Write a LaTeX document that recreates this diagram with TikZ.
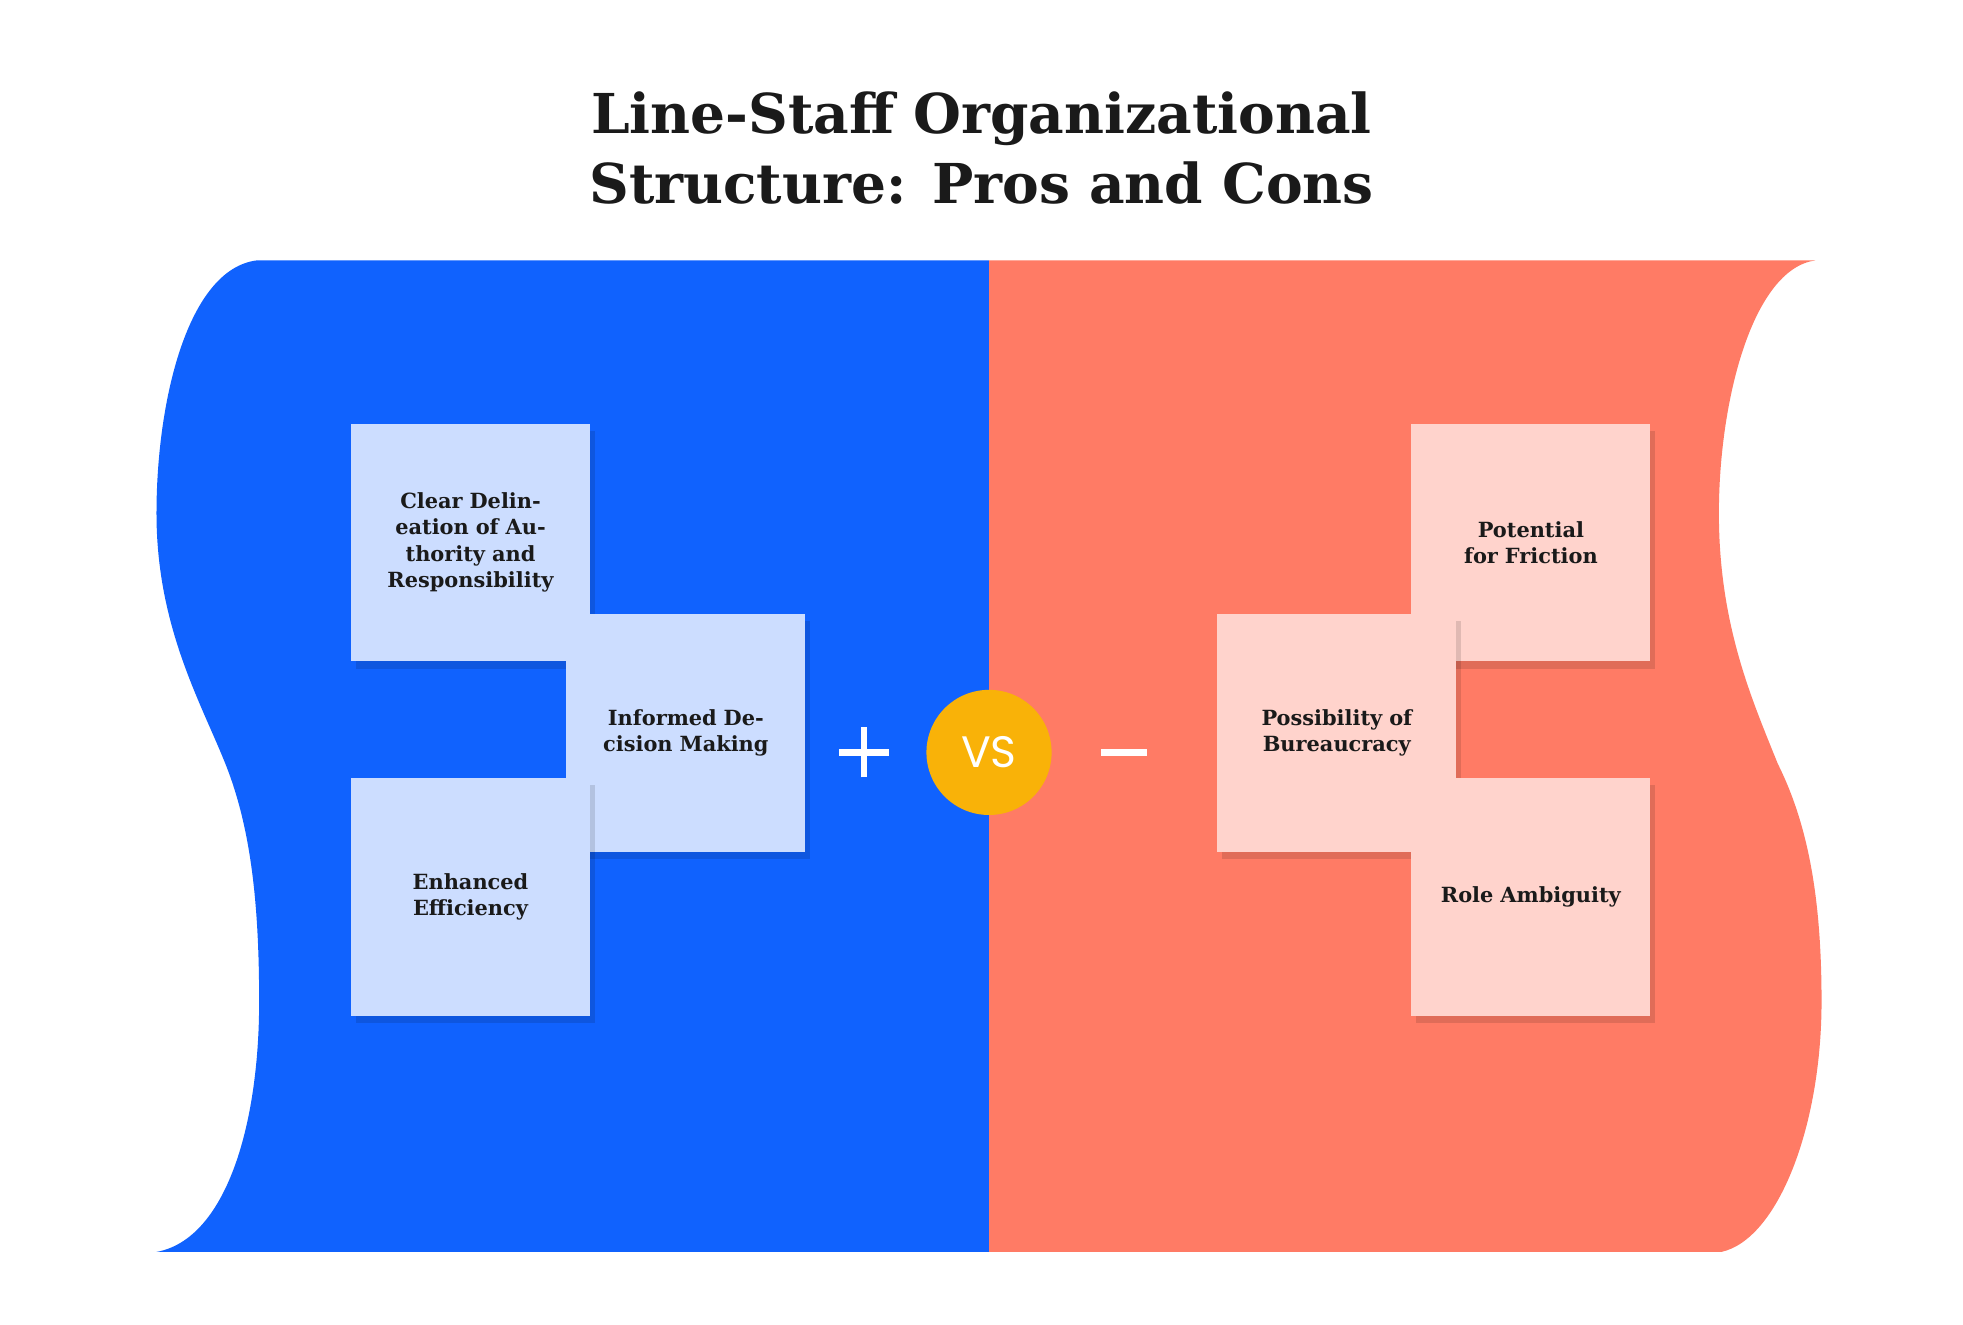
\documentclass[tikz,border=0pt]{standalone}
\usepackage{fontspec}
\setmainfont{DejaVu Serif}
\newfontfamily\vsfont{Poppins}
\definecolor{bblue}{HTML}{1062FE}
\definecolor{rred}{HTML}{FF7B65}
\definecolor{lblue}{HTML}{CCDDFF}
\definecolor{lred}{HTML}{FFD3CC}
\definecolor{vsy}{HTML}{F9B208}
\definecolor{txt}{HTML}{1A1A1A}
\begin{document}
\begin{tikzpicture}[x=0.02cm,y=-0.02cm,
  card/.style={minimum width=3.82cm,minimum height=3.8cm,inner sep=0pt,anchor=north west,
    text width=3.2cm,align=center,font=\bfseries\fontsize{9.5}{12}\selectfont,text=txt},
  shade/.style={fill=black,opacity=0.12}]
\useasboundingbox (0,0) rectangle (1568,1058);
\fill[white] (0,0) rectangle (1568,1058);
\node[font=\bfseries\fontsize{25}{32}\selectfont,text=txt,align=center] (title) at (784,118) {Line-Staff Organizational\\Structure: Pros and Cons};
\fill[bblue] (205,208) -- (790,208) -- (790,1000) -- (125,1000)
  .. controls (180,990) and (207,900) .. (207,800)
  .. controls (207,720) and (200,660) .. (180,610)
  .. controls (160,560) and (125,500) .. (125,410)
  .. controls (125,320) and (150,215) .. (205,208) -- cycle;
\fill[rred] (790,208) -- (1450,208)
  .. controls (1400,215) and (1373,320) .. (1373,410)
  .. controls (1373,500) and (1400,560) .. (1420,610)
  .. controls (1445,660) and (1455,720) .. (1455,800)
  .. controls (1455,900) and (1420,990) .. (1375,1000) -- (790,1000) -- cycle;
% blue cards
\fill[shade] (284,344) rectangle (475,534);
\node[card,fill=lblue] (c1) at (280,338) {Clear Delineation of Authority and Responsibility};
\fill[shade] (456,496) rectangle (647,686);
\node[card,fill=lblue] (c2) at (452,490) {Informed Decision Making};
\fill[shade] (284,627) rectangle (475,817);
\node[card,fill=lblue] (c3) at (280,621) {Enhanced Efficiency};
% red cards
\fill[shade] (1131,344) rectangle (1322,534);
\node[card,fill=lred] (r1) at (1127,338) {Potential for Friction};
\fill[shade] (976,496) rectangle (1167,686);
\node[card,fill=lred] (r2) at (972,490) {Possibility of Bureaucracy};
\fill[shade] (1131,627) rectangle (1322,817);
\node[card,fill=lred] (r3) at (1127,621) {Role Ambiguity};
% vs
\node[circle,fill=vsy,minimum size=2cm,inner sep=0pt,text=white,font=\vsfont\fontsize{20}{20}\selectfont] (vs) at (790,601) {VS};
\coordinate (p) at (690,601);
\draw[white,line width=3pt] ([xshift=-0.4cm]p) -- ([xshift=0.4cm]p) ([yshift=-0.4cm]p) -- ([yshift=0.4cm]p);
\coordinate (m) at (898,601);
\draw[white,line width=3pt] ([xshift=-0.37cm]m) -- ([xshift=0.37cm]m);
\end{tikzpicture}
\end{document}
